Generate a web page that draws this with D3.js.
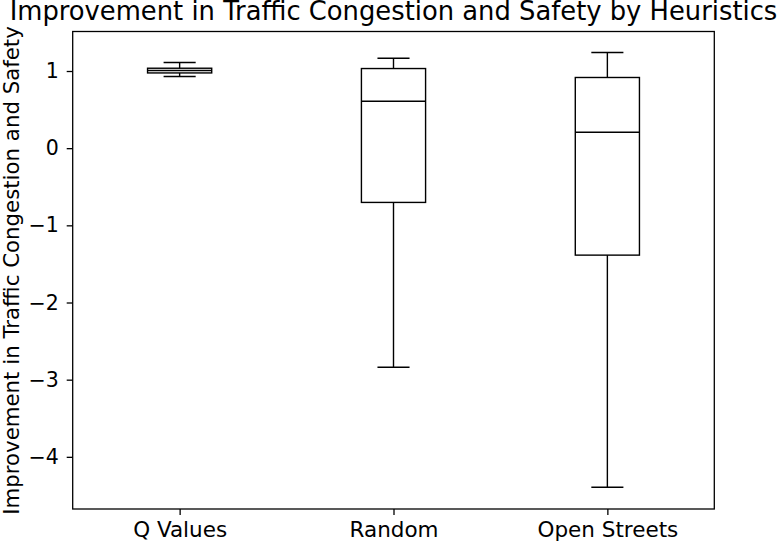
<!DOCTYPE html>
<html><head><meta charset="utf-8">
<script src="https://cdn.jsdelivr.net/npm/d3@7"></script>
<style>body{margin:0;background:#fff}text{font-family:"DejaVu Sans",sans-serif;fill:#000}</style>
</head><body>
<svg id="c" width="781" height="543"></svg>
<script>
const categories = ["Q Values", "Random", "Open Streets"];
const whiskerLow  = [0.929, -2.84, -4.395];
const q1          = [0.975, -0.703, -1.386];
const medians     = [1.006, 0.609, 0.207];
const q3          = [1.036, 1.032, 0.916];
const whiskerHigh = [1.110, 1.166, 1.240];
const yTicks = [-4, -3, -2, -1, 0, 1];
const yDomain = [-4.676, 1.512];
const title = "Improvement in Traffic Congestion and Safety by Heuristics";
const yLabel = "Improvement in Traffic Congestion and Safety";

const svg = d3.select("#c");
const L = 72.7, R = 714.3, T = 31.5, B = 509;
const x = d3.scaleLinear().domain([0.5, 3.5]).range([L, R]);
const y = d3.scaleLinear().domain(yDomain).range([B, T]);
const boxW = 0.3, capW = 0.15;
const lw = 1.4;

const g = svg.append("g");
categories.forEach((c, i) => {
  const p = i + 1;
  const cx = x(p);
  const bx0 = x(p - boxW/2), bx1 = x(p + boxW/2);
  const cx0 = x(p - capW/2), cx1 = x(p + capW/2);
  g.append("line").attr("x1", cx).attr("x2", cx).attr("y1", y(q3[i])).attr("y2", y(whiskerHigh[i])).attr("stroke","#000").attr("stroke-width",lw);
  g.append("line").attr("x1", cx).attr("x2", cx).attr("y1", y(q1[i])).attr("y2", y(whiskerLow[i])).attr("stroke","#000").attr("stroke-width",lw);
  g.append("line").attr("x1", cx0).attr("x2", cx1).attr("y1", y(whiskerHigh[i])).attr("y2", y(whiskerHigh[i])).attr("stroke","#000").attr("stroke-width",lw);
  g.append("line").attr("x1", cx0).attr("x2", cx1).attr("y1", y(whiskerLow[i])).attr("y2", y(whiskerLow[i])).attr("stroke","#000").attr("stroke-width",lw);
  g.append("rect").attr("x", bx0).attr("y", y(q3[i])).attr("width", bx1 - bx0).attr("height", y(q1[i]) - y(q3[i]))
    .attr("fill","none").attr("stroke","#000").attr("stroke-width",lw);
  g.append("line").attr("x1", bx0).attr("x2", bx1).attr("y1", y(medians[i])).attr("y2", y(medians[i])).attr("stroke","#000").attr("stroke-width",lw);
});

svg.append("rect").attr("x", L).attr("y", T).attr("width", R - L).attr("height", B - T)
  .attr("fill","none").attr("stroke","#000").attr("stroke-width",1.3);

const yAxis = d3.axisLeft(y).tickValues(yTicks).tickSize(6).tickPadding(8)
  .tickFormat(d => d3.format("d")(d).replace("-", "\u2212"));
const ya = svg.append("g").attr("transform", `translate(${L},0)`).call(yAxis);
ya.select(".domain").remove();
ya.selectAll(".tick line").attr("stroke","#000").attr("stroke-width",1.3);
ya.selectAll(".tick text").attr("font-size", 20.5).attr("font-family","DejaVu Sans").attr("fill","#000");

const xAxis = d3.axisBottom(x).tickValues([1,2,3]).tickSize(6).tickPadding(7)
  .tickFormat((d) => categories[d-1]);
const xa = svg.append("g").attr("transform", `translate(0,${B})`).call(xAxis);
xa.select(".domain").remove();
xa.selectAll(".tick line").attr("stroke","#000").attr("stroke-width",1.3);
xa.selectAll(".tick text").attr("font-size", 21.5).attr("font-family","DejaVu Sans").attr("fill","#000");

svg.append("text").attr("x", (L + R)/2).attr("y", 20).attr("text-anchor","middle")
  .attr("font-size", 25.8).text(title);

svg.append("text").attr("transform", `translate(18.5,${(25+516)/2}) rotate(-90)`)
  .attr("text-anchor","middle").attr("font-size", 21.3).text(yLabel);
</script>
</body></html>
